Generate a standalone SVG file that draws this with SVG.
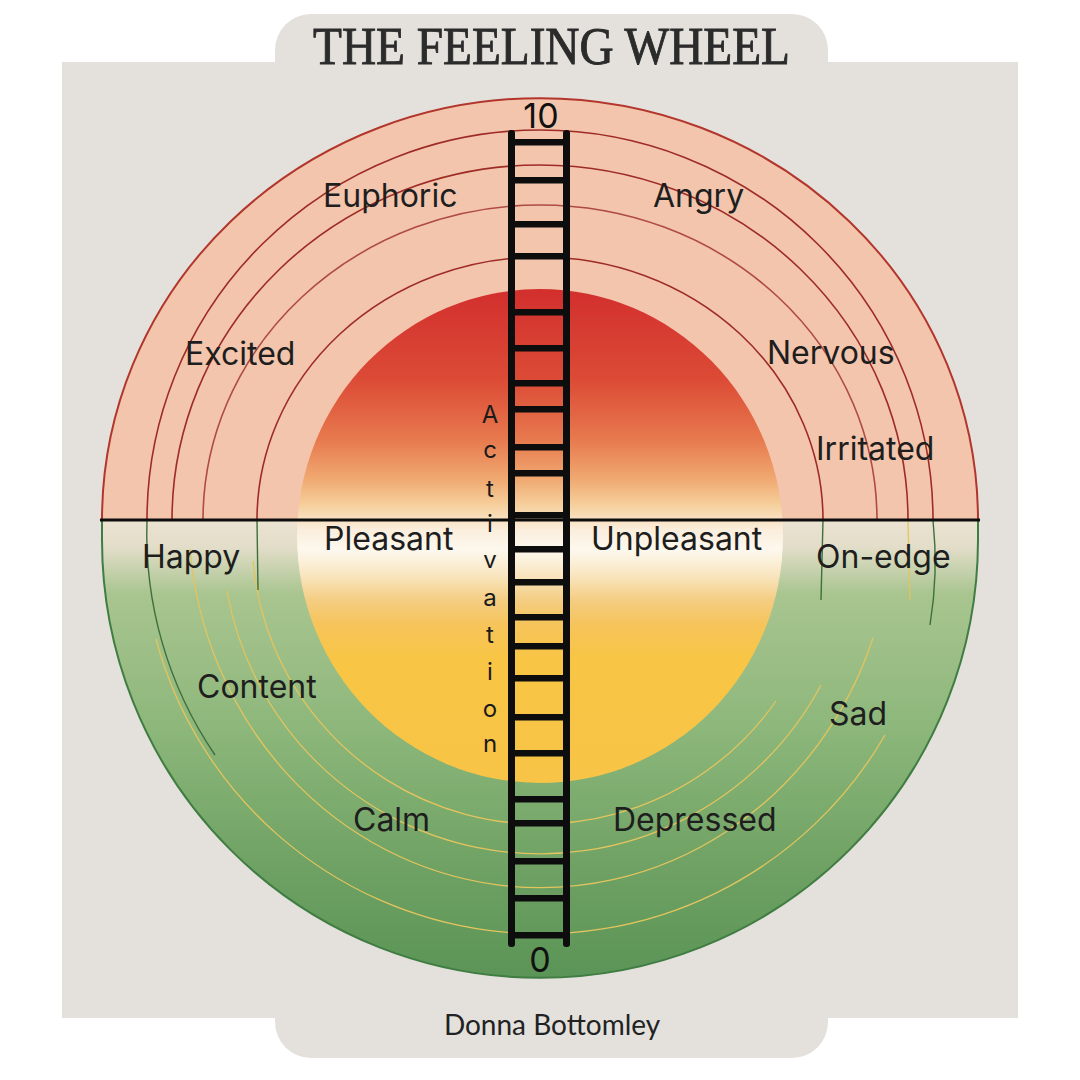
<svg xmlns="http://www.w3.org/2000/svg" width="1080" height="1080" viewBox="0 0 1080 1080">
  <defs>
    <linearGradient id="gInner" gradientUnits="userSpaceOnUse" x1="0" y1="289" x2="0" y2="783">
      <stop offset="0" stop-color="#d22f2d"/>
      <stop offset="0.184" stop-color="#dc4b36"/>
      <stop offset="0.306" stop-color="#e77a4e"/>
      <stop offset="0.387" stop-color="#f0aa72"/>
      <stop offset="0.437" stop-color="#f6cf9c"/>
      <stop offset="0.488" stop-color="#fbeedd"/>
      <stop offset="0.528" stop-color="#fdf8ee"/>
      <stop offset="0.579" stop-color="#f9e6c0"/>
      <stop offset="0.630" stop-color="#f4cd82"/>
      <stop offset="0.680" stop-color="#f6c45a"/>
      <stop offset="0.751" stop-color="#f8c544"/>
      <stop offset="1" stop-color="#f7c447"/>
    </linearGradient>
    <linearGradient id="gGreen" gradientUnits="userSpaceOnUse" x1="0" y1="520" x2="0" y2="980">
      <stop offset="0" stop-color="#ece3d2"/>
      <stop offset="0.06" stop-color="#e2ddc8"/>
      <stop offset="0.16" stop-color="#a9c590"/>
      <stop offset="0.45" stop-color="#8db77b"/>
      <stop offset="0.75" stop-color="#6fa264"/>
      <stop offset="1" stop-color="#5a9456"/>
    </linearGradient>
    <style>
      .panel { fill: #e4e1dd; }
      .lbl { font-family: Inter, "Noto Sans", "DejaVu Sans", sans-serif; font-size: 32px; fill: #1e1e1e; }
      .num { font-family: Inter, "Noto Sans", sans-serif; font-size: 34px; fill: #111; text-anchor: middle; }
      .act { font-family: Inter, "Noto Sans", sans-serif; font-size: 24px; fill: #1a1a1a; text-anchor: middle; }
      .redarc { fill: none; stroke: #9e2c25; stroke-width: 1.6; }
      .yarc { fill: none; stroke: #e3c45e; stroke-width: 1.3; }
      .garc { fill: none; stroke: #3f6f3c; stroke-width: 1.4; }
      .rail { fill: #0d0d0d; }
      .rung { fill: #0d0d0d; }
    </style>
  </defs>

  <rect width="1080" height="1080" fill="#ffffff"/>

  <g id="background">
    <rect class="panel" x="62" y="62" width="956" height="956"/>
    <rect class="panel" x="275" y="14" width="553" height="90" rx="36"/>
    <rect class="panel" x="275" y="970" width="553" height="88" rx="36"/>
  </g>

  <g id="title">
    <text x="313" y="64" font-family="'Liberation Serif', 'DejaVu Serif', serif" font-size="52" fill="#2b2b2b" stroke="#2b2b2b" stroke-width="0.9" textLength="477" lengthAdjust="spacingAndGlyphs">THE FEELING WHEEL</text>
  </g>

  <g id="wheel">
    <path d="M 102 520 A 438 422 0 0 1 978 520 Z" fill="#f3c5ad"/>
    <path d="M 978 520 L 978 540 A 438 438 0 0 1 102 540 L 102 520 Z" fill="url(#gGreen)"/>
    <g id="rings-top">
      <path class="redarc" d="M 147 520 A 393 390 0 0 1 933 520"/>
      <path class="redarc" d="M 172 520 A 368 355 0 0 1 908 520"/>
      <path class="redarc" d="M 203 520 A 337 315 0 0 1 877 520" opacity="0.8"/>
      <path class="redarc" d="M 257 520 A 283 263 0 0 1 823 520"/>
    </g>
    <g id="rings-bottom">
      <path class="yarc" d="M 776 701 A 288 288 0 0 1 253 561"/>
      <path class="yarc" d="M 821 685 A 318 318 0 0 1 227 591"/>
      <path class="yarc" d="M 873 638 A 352 372 0 0 1 190 549"/>
      <path class="yarc" d="M 885 735 A 398 398 0 0 1 156 639"/>
      <path class="yarc" d="M 908 520 L 910 600"/>
      <path class="garc" d="M 147 520 A 393 393 0 0 0 215 755"/>
      <path class="garc" d="M 933 520 A 393 393 0 0 1 930 625"/>
      <path class="garc" d="M 257 520 L 258 590"/>
      <path class="garc" d="M 823 520 L 821 600"/>
    </g>
    <ellipse cx="540" cy="536" rx="243" ry="247" fill="url(#gInner)"/>
    <path d="M 102 520 A 438 422 0 0 1 978 520" fill="none" stroke="#b3362c" stroke-width="2"/>
    <path d="M 978 520 L 978 540 A 438 438 0 0 1 102 540 L 102 520" fill="none" stroke="#3f7d42" stroke-width="2"/>
    <line x1="100" y1="520" x2="980" y2="520" stroke="#0d0d0d" stroke-width="3"/>
  </g>

  <g id="ladder">
    <rect class="rail" x="508" y="130" width="7" height="817" rx="3"/>
    <rect class="rail" x="563" y="130" width="7" height="817" rx="3"/>
    <g id="rungs">
      <rect class="rung" x="511" y="139" width="56" height="6.5"/>
      <rect class="rung" x="511" y="177" width="56" height="6.5"/>
      <rect class="rung" x="511" y="221" width="56" height="6.5"/>
      <rect class="rung" x="511" y="253" width="56" height="6.5"/>
      <rect class="rung" x="511" y="309" width="56" height="6.5"/>
      <rect class="rung" x="511" y="345" width="56" height="6.5"/>
      <rect class="rung" x="511" y="380" width="56" height="6.5"/>
      <rect class="rung" x="511" y="406" width="56" height="6.5"/>
      <rect class="rung" x="511" y="444" width="56" height="6.5"/>
      <rect class="rung" x="511" y="470" width="56" height="6.5"/>
      <rect class="rung" x="511" y="512" width="56" height="6.5"/>
      <rect class="rung" x="511" y="546" width="56" height="6.5"/>
      <rect class="rung" x="511" y="579" width="56" height="6.5"/>
      <rect class="rung" x="511" y="614" width="56" height="6.5"/>
      <rect class="rung" x="511" y="643" width="56" height="6.5"/>
      <rect class="rung" x="511" y="675" width="56" height="6.5"/>
      <rect class="rung" x="511" y="714" width="56" height="6.5"/>
      <rect class="rung" x="511" y="750" width="56" height="6.5"/>
      <rect class="rung" x="511" y="796" width="56" height="6.5"/>
      <rect class="rung" x="511" y="820" width="56" height="6.5"/>
      <rect class="rung" x="511" y="858" width="56" height="6.5"/>
      <rect class="rung" x="511" y="895" width="56" height="6.5"/>
      <rect class="rung" x="511" y="932" width="56" height="6.5"/>
    </g>
    <text id="scale-top" class="num" x="541" y="128">10</text>
    <text id="scale-bottom" class="num" x="540" y="972">0</text>
    <g id="activation">
      <text class="act" x="490" y="423">A</text>
      <text class="act" x="490" y="458">c</text>
      <text class="act" x="490" y="497">t</text>
      <text class="act" x="490" y="532">i</text>
      <text class="act" x="490" y="568">v</text>
      <text class="act" x="490" y="606">a</text>
      <text class="act" x="490" y="643">t</text>
      <text class="act" x="490" y="680">i</text>
      <text class="act" x="490" y="717">o</text>
      <text class="act" x="490" y="752">n</text>
    </g>
  </g>

  <g id="labels">
    <text id="l-euphoric" class="lbl" x="323" y="207">Euphoric</text>
    <text id="l-angry" class="lbl" x="653" y="207">Angry</text>
    <text id="l-excited" class="lbl" x="185" y="365">Excited</text>
    <text id="l-nervous" class="lbl" x="767" y="364">Nervous</text>
    <text id="l-irritated" class="lbl" x="816" y="460">Irritated</text>
    <text id="l-pleasant" class="lbl" x="324" y="550">Pleasant</text>
    <text id="l-unpleasant" class="lbl" x="591" y="550">Unpleasant</text>
    <text id="l-happy" class="lbl" x="142" y="568">Happy</text>
    <text id="l-onedge" class="lbl" x="816" y="568">On-edge</text>
    <text id="l-content" class="lbl" x="197" y="698">Content</text>
    <text id="l-sad" class="lbl" x="829" y="725">Sad</text>
    <text id="l-calm" class="lbl" x="353" y="831">Calm</text>
    <text id="l-depressed" class="lbl" x="613" y="831">Depressed</text>
  </g>

  <g id="credit">
    <text x="552" y="1035" font-family="Lato, 'Liberation Sans', sans-serif" font-size="28" fill="#222" text-anchor="middle">Donna Bottomley</text>
  </g>
</svg>
